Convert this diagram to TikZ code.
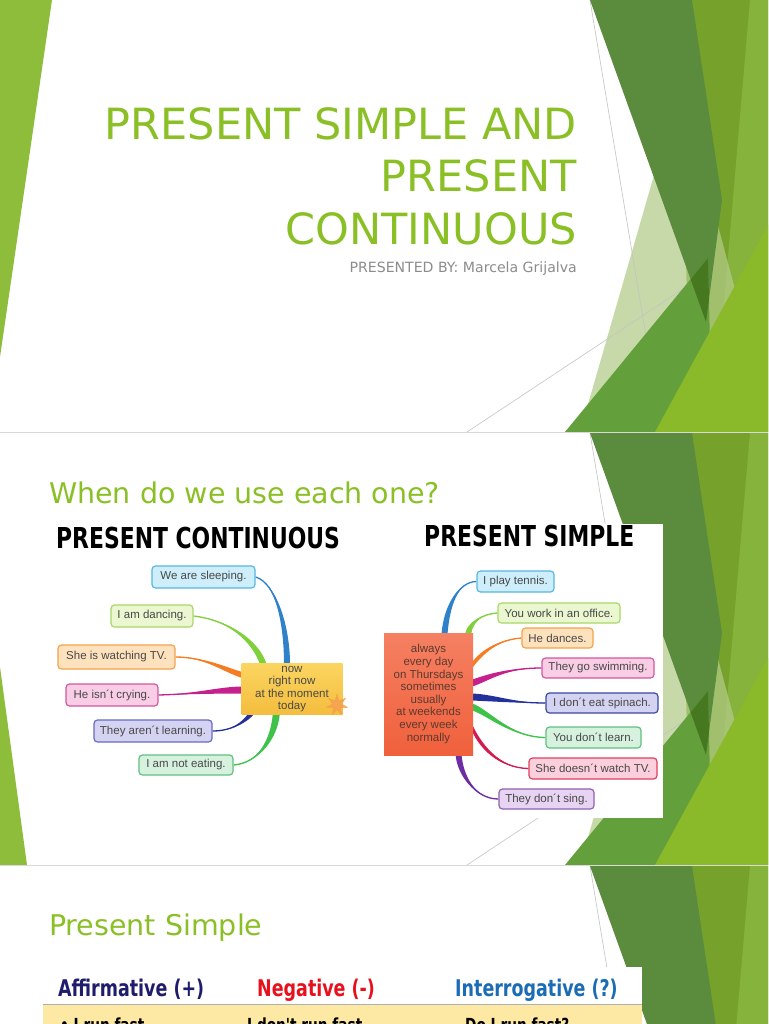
\documentclass[tikz,border=0pt]{standalone}
\usepackage{fontspec}
\usetikzlibrary{calc,shapes.geometric}
\newfontfamily\dejavu{DejaVu Sans}
\newfontfamily\arialf{Liberation Sans}
\newfontfamily\handfont[FakeStretch=0.76]{DejaVu Sans}
\definecolor{titlegreen}{RGB}{138,192,38}
\definecolor{authorgray}{RGB}{140,140,140}
\definecolor{olivegreen}{RGB}{118,162,43}
\definecolor{stripgreen}{RGB}{134,179,59}
\definecolor{palegreen}{RGB}{179,203,136}
\definecolor{darkgreen}{RGB}{91,139,61}
\definecolor{deepgreen}{RGB}{70,121,31}
\definecolor{midgreen}{RGB}{99,160,59}
\definecolor{limegreen}{RGB}{138,185,42}
\definecolor{leftgreen}{RGB}{141,189,59}
\definecolor{hairline}{RGB}{196,196,196}
\definecolor{maptext}{RGB}{72,72,72}
\definecolor{hubtext}{RGB}{92,58,48}
\definecolor{skyfill}{RGB}{205,238,250}
\definecolor{skyline}{RGB}{88,184,224}
\definecolor{leaffill}{RGB}{234,247,208}
\definecolor{leafline}{RGB}{168,216,104}
\definecolor{peachfill}{RGB}{253,226,189}
\definecolor{peachline}{RGB}{244,162,76}
\definecolor{rosefill}{RGB}{249,205,230}
\definecolor{roseline}{RGB}{208,88,160}
\definecolor{lilacfill}{RGB}{212,212,242}
\definecolor{lilacline}{RGB}{106,106,192}
\definecolor{navyline}{RGB}{56,72,160}
\definecolor{mintfill}{RGB}{214,242,222}
\definecolor{mintline}{RGB}{96,192,128}
\definecolor{cherryfill}{RGB}{251,208,220}
\definecolor{cherryline}{RGB}{224,64,96}
\definecolor{plumfill}{RGB}{230,212,242}
\definecolor{plumline}{RGB}{144,96,176}
\definecolor{skybranch}{RGB}{47,130,201}
\definecolor{leafbranch}{RGB}{127,209,59}
\definecolor{peachbranch}{RGB}{245,124,33}
\definecolor{rosebranch}{RGB}{197,32,142}
\definecolor{lilacbranch}{RGB}{36,48,156}
\definecolor{mintbranch}{RGB}{62,194,74}
\definecolor{cherrybranch}{RGB}{210,28,80}
\definecolor{plumbranch}{RGB}{108,46,160}
\definecolor{sparkorange}{RGB}{246,160,80}
\definecolor{rowyellow}{RGB}{253,232,164}
\definecolor{rulegray}{RGB}{176,176,176}
\definecolor{affnavy}{RGB}{31,29,107}
\definecolor{negred}{RGB}{232,16,28}
\definecolor{intblue}{RGB}{27,108,181}
\pgfdeclarelayer{back}
\pgfdeclarelayer{mid}
\pgfsetlayers{back,mid,main}
\newcommand{\facet}[1]{%
\begin{scope}[shift={(0,#1)}]
\fill[olivegreen] (680,0) -- (768,0) -- (768,432) -- (690,432) -- cycle;
\fill[stripgreen] (750,0) -- (768,0) -- (768,432) -- (713,432) -- cycle;
\fill[palegreen,opacity=.73] (680,85) -- (738,300) -- (700,432) -- (580,432) -- cycle;
\draw[hairline,line width=.6] (590,0) -- (662,432);
\draw[hairline,line width=.6] (467,432) -- (704,275);
\fill[darkgreen] (590,0) -- (692,0) -- (722,200) -- (706,322) -- cycle;
\fill[midgreen] (565,432) -- (708,258) -- (712,432) -- cycle;
\fill[deepgreen] (690.6,279.3) -- (708,258) -- (709,299.5) -- (706,322) -- cycle;
\fill[limegreen] (655,432) -- (768,225) -- (768,432) -- cycle;
\end{scope}}
\newcommand{\branch}[6]{%
\fill[#1] (#2) .. controls (#3) and ($(#4)+(#6)$) .. ($(#5)+(#6)$) -- ($(#5)-(#6)$) .. controls ($(#4)-(#6)$) and (#3) .. (#2) -- cycle;
\draw[#1,line width=1.3] (#2) .. controls (#3) and (#4) .. (#5);}
\begin{document}
\begin{tikzpicture}[x=1pt,y=-1pt,
  mapbox/.style 2 args={draw=#2,fill=#1,line width=1.2,rounded corners=3.5,inner sep=0,font=\arialf\fontsize{11.5}{13}\selectfont,text=maptext},
  hubbox/.style={inner sep=0,align=center,font=\arialf\fontsize{11.5}{12.6}\selectfont},
  slidetext/.style={inner sep=0,font=\dejavu\fontsize{28.5}{32}\selectfont,text=titlegreen},
  headtext/.style={anchor=base west,inner sep=0,font=\handfont\bfseries\fontsize{28.8}{30}\selectfont},
  tablehead/.style={anchor=base west,inner sep=0,font=\handfont\bfseries\fontsize{23}{25}\selectfont},
  tablerow/.style={anchor=base west,inner sep=0,font=\handfont\bfseries\fontsize{18}{20}\selectfont}]
\useasboundingbox (0,0) rectangle (768,1024);
\begin{pgfonlayer}{back}
\fill[white] (0,0) rectangle (768,1024);
\facet{0}
\facet{433}
\facet{866}
\fill[leftgreen] (0,0) -- (52,0) -- (0,357) -- cycle;
\fill[leftgreen] (0,667) -- (27,865) -- (0,865) -- cycle;
\draw[black!15,line width=.8] (0,432.5) -- (768,432.5);
\draw[black!15,line width=.8] (0,865.5) -- (768,865.5);
\fill[white] (383,524) rectangle (663,818);
\fill[white] (43,967) rectangle (642,1004);
\fill[rowyellow] (43,1005) rectangle (642,1030);
\draw[rulegray,line width=1.5] (43,1004.5) -- (642,1004.5);
\end{pgfonlayer}

\node[anchor=base east,inner sep=0,font=\dejavu\fontsize{43}{52}\selectfont,text=titlegreen] (title1) at (577,140) {PRESENT SIMPLE AND};
\node[anchor=base east,inner sep=0,font=\dejavu\fontsize{43}{52}\selectfont,text=titlegreen] (title2) at (577,192) {PRESENT};
\node[anchor=base east,inner sep=0,font=\dejavu\fontsize{43}{52}\selectfont,text=titlegreen] (title3) at (577,244) {CONTINUOUS};
\node[anchor=base east,inner sep=0,font=\dejavu\fontsize{14.1}{16}\selectfont,text=authorgray] (author) at (577,272) {PRESENTED BY: Marcela Grijalva};

\node[slidetext,anchor=base west] (question) at (49,503) {When do we use each one?};
\node[headtext] (pcHead) at (56,548) {PRESENT CONTINUOUS};
\node[headtext] (psHead) at (424,546) {PRESENT SIMPLE};

\node[mapbox={skyfill}{skyline},minimum width=103,minimum height=22] (sleeping) at (203.5,577) {We are sleeping.};
\node[mapbox={leaffill}{leafline},minimum width=82,minimum height=22] (dancing) at (152,616) {I am dancing.};
\node[mapbox={peachfill}{peachline},minimum width=117,minimum height=24] (watching) at (116.5,657) {She is watching TV.};
\node[mapbox={rosefill}{roseline},minimum width=92,minimum height=22] (crying) at (112,695) {He isn´t crying.};
\node[mapbox={lilacfill}{lilacline},minimum width=118,minimum height=22] (learning) at (153,731) {They aren´t learning.};
\node[mapbox={mintfill}{mintline},minimum width=94,minimum height=20] (eating) at (186,765) {I am not eating.};
\node[hubbox,top color={rgb,255:red,251;green,213;blue,96},bottom color={rgb,255:red,244;green,189;blue,62},minimum width=101,minimum height=51,text=maptext] (nowbox) at (292,689) {now\\right now\\at the moment\\today};
\node[star,star points=7,star point ratio=2.4,fill=sparkorange,draw=peachline,line width=.4,opacity=.85,minimum size=22,inner sep=0] (spark) at (337,705) {};

\node[hubbox,top color={rgb,255:red,245;green,128;blue,98},bottom color={rgb,255:red,240;green,96;blue,60},minimum width=89,minimum height=122,text=hubtext] (habits) at (428.5,694) {always\\every day\\on Thursdays\\sometimes\\usually\\at weekends\\every week\\normally};
\node[mapbox={skyfill}{skyline},minimum width=77,minimum height=21] (tennis) at (515.5,581.5) {I play tennis.};
\node[mapbox={leaffill}{leafline},minimum width=122,minimum height=20] (office) at (559,613) {You work in an office.};
\node[mapbox={peachfill}{peachline},minimum width=71,minimum height=20] (dances) at (557.5,638) {He dances.};
\node[mapbox={rosefill}{roseline},minimum width=112,minimum height=20] (swimming) at (598,668) {They go swimming.};
\node[mapbox={lilacfill}{navyline},minimum width=112,minimum height=20] (spinach) at (602,703) {I don´t eat spinach.};
\node[mapbox={mintfill}{mintline},minimum width=95,minimum height=21] (learn) at (593.5,737.5) {You don´t learn.};
\node[mapbox={cherryfill}{cherryline},minimum width=128,minimum height=21] (watch) at (593,768.5) {She doesn´t watch TV.};
\node[mapbox={plumfill}{plumline},minimum width=95,minimum height=20] (sing) at (546.5,799) {They don´t sing.};

\node[slidetext,anchor=base west] (pstitle) at (49,935) {Present Simple};
\node[tablehead,text=affnavy] (affHead) at (58,996) {Affirmative (+)};
\node[tablehead,text=negred] (negHead) at (257,996) {Negative (-)};
\node[tablehead,text=intblue] (intHead) at (455,996) {Interrogative (?)};
\node[tablerow] (affRow) at (60,1031) {• I run fast};
\node[tablerow] (negRow) at (247,1031) {I don't run fast};
\node[tablerow] (intRow) at (465,1031) {Do I run fast?};

\begin{pgfonlayer}{mid}
\coordinate (pc1) at ($(nowbox.north)+(-5,1)$);
\coordinate (pc2) at ($(nowbox.north west)+(22,1)$);
\coordinate (pc3) at ($(nowbox.west)+(1,-14)$);
\coordinate (pc4) at ($(nowbox.west)+(1,1)$);
\coordinate (pc5) at ($(nowbox.south west)+(10,-1)$);
\coordinate (pc6) at ($(nowbox.south west)+(35,-1)$);
\branch{skybranch}{sleeping.east}{276,583}{287,625}{pc1}{3,0}
\branch{leafbranch}{dancing.east}{228,620}{255,640}{pc2}{3,-1}
\branch{peachbranch}{watching.east}{205,657}{225,670}{pc3}{0,3}
\branch{rosebranch}{crying.east}{195,694}{220,690}{pc4}{0,3.5}
\branch{lilacbranch}{learning.east}{232,731}{245,722}{pc5}{3,0}
\branch{mintbranch}{eating.east}{258,763}{274,740}{pc6}{3.5,0}
\coordinate (ps1) at ($(habits.north)+(16,1)$);
\coordinate (ps2) at ($(habits.north east)+(-5,1)$);
\coordinate (ps3) at ($(habits.east)+(-1,-29)$);
\coordinate (ps4) at ($(habits.east)+(-1,-11)$);
\coordinate (ps5) at ($(habits.east)+(-1,3)$);
\coordinate (ps6) at ($(habits.east)+(-1,13)$);
\coordinate (ps7) at ($(habits.east)+(-1,34)$);
\coordinate (ps8) at ($(habits.south)+(30,-1)$);
\branch{skybranch}{tennis.west}{458,582}{447,605}{ps1}{3,0}
\branch{leafbranch}{office.west}{482,614}{470,622}{ps2}{3,0}
\branch{peachbranch}{dances.west}{495,640}{480,655}{ps3}{0,3}
\branch{rosebranch}{swimming.west}{505,668}{488,678}{ps4}{0,3.5}
\branch{lilacbranch}{spinach.west}{515,703}{495,698}{ps5}{0,3.5}
\branch{mintbranch}{learn.west}{510,737}{488,712}{ps6}{0,3.5}
\branch{cherrybranch}{watch.west}{498,768}{480,745}{ps7}{0,3.5}
\branch{plumbranch}{sing.west}{475,799}{460,775}{ps8}{3,0}
\end{pgfonlayer}
\end{tikzpicture}
\end{document}
